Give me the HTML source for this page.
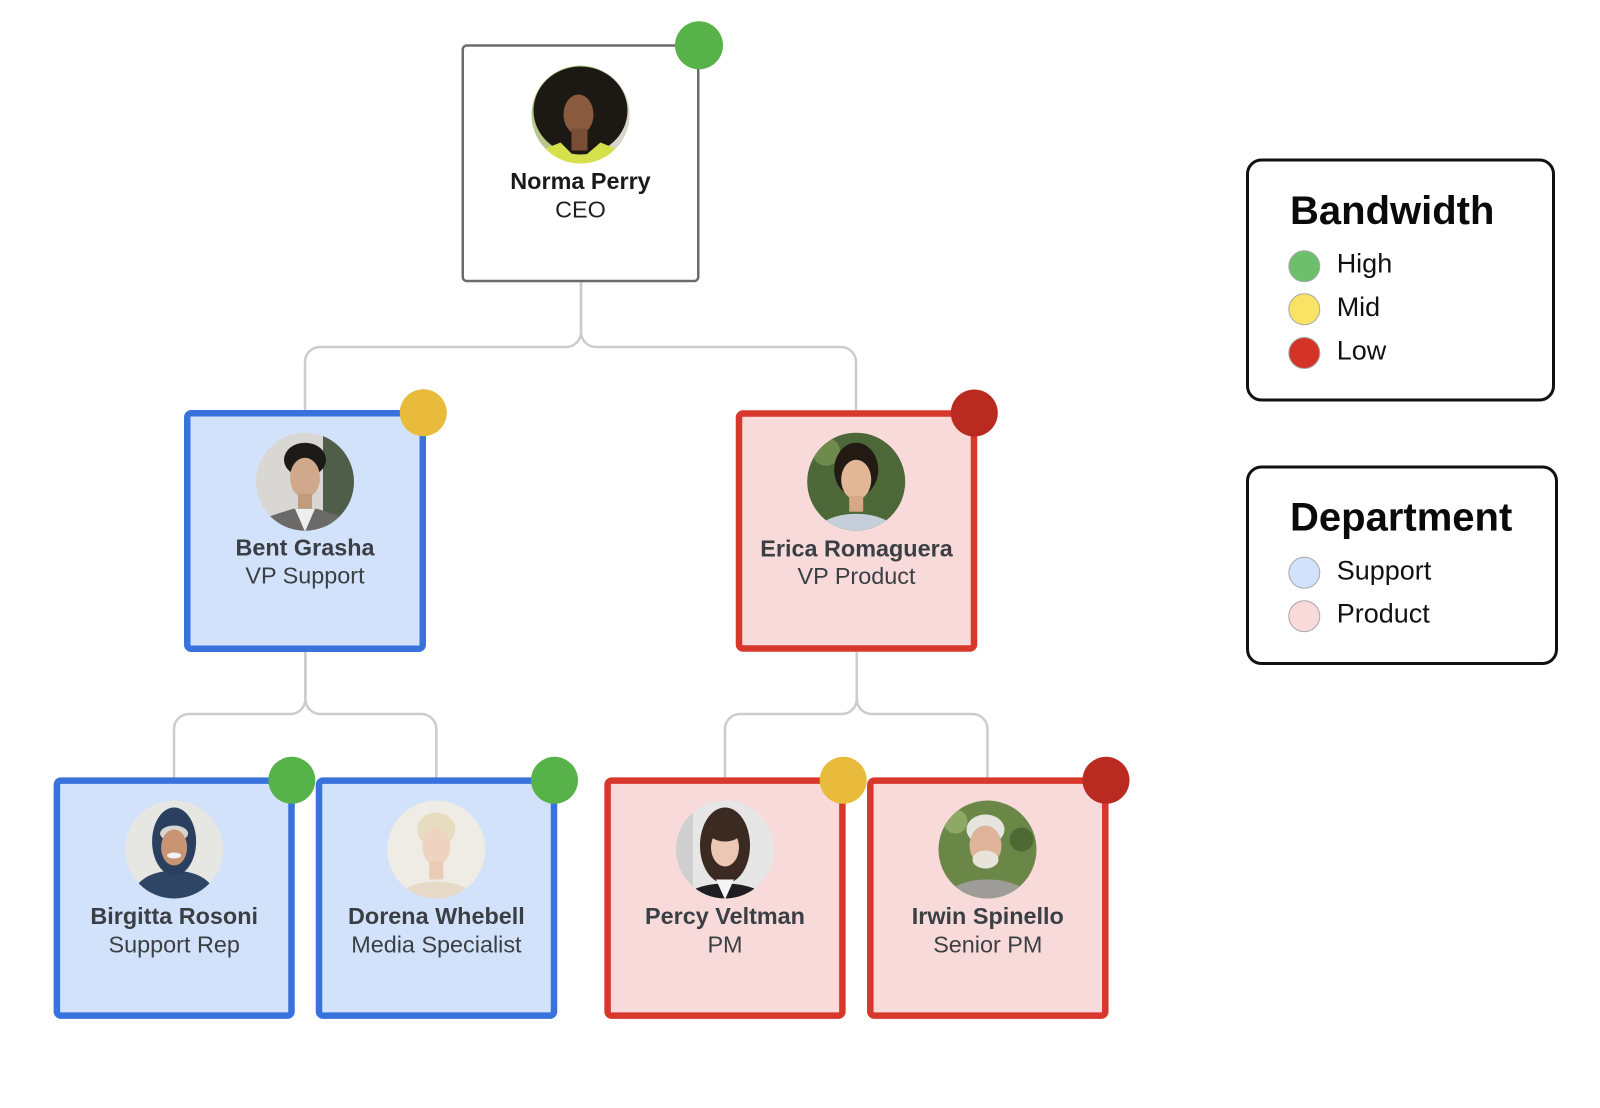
<!DOCTYPE html>
<html><head><meta charset="utf-8"><style>
html,body{margin:0;padding:0;background:#fff;}
svg{display:block;}
text{font-family:"Liberation Sans",Arial,sans-serif;}
</style></head><body>
<svg width="1600" height="1108" viewBox="0 0 1600 1108" xmlns="http://www.w3.org/2000/svg">
<defs>
<clipPath id="cc"><circle cx="0" cy="0" r="49"/></clipPath>
</defs>
<rect width="1600" height="1108" fill="#fff"/>

<!-- connectors -->
<g fill="none" stroke="#cccccc" stroke-width="2.5">
<path d="M581,282 V332 A15,15 0 0 1 566,347 H320 A15,15 0 0 0 305,362 V411"/>
<path d="M581,282 V332 A15,15 0 0 0 596,347 H841 A15,15 0 0 1 856,362 V411"/>
<path d="M305.4,652 V699 A15,15 0 0 1 290.4,714 H189 A15,15 0 0 0 174,729 V778"/>
<path d="M305.4,652 V699 A15,15 0 0 0 320.4,714 H421.3 A15,15 0 0 1 436.3,729 V778"/>
<path d="M856.8,652 V699 A15,15 0 0 1 841.8,714 H740 A15,15 0 0 0 725,729 V778"/>
<path d="M856.8,652 V699 A15,15 0 0 0 871.8,714 H972.5 A15,15 0 0 1 987.5,729 V778"/>
</g>

<!-- boxes -->
<rect x="462.75" y="45.5" width="235.5" height="235.5" rx="4" fill="#fff" stroke="#6b6b6b" stroke-width="2.5"/>
<g stroke-width="6.5">
<rect x="187.25" y="413.25" width="235.5" height="235.5" rx="4" fill="#d3e2fb" stroke="#3872dc"/>
<rect x="739" y="413.5" width="235" height="235" rx="4" fill="#f8dada" stroke="#d8372c"/>
<rect x="56.9" y="780.6" width="234.6" height="235" rx="4" fill="#d3e2fb" stroke="#3872dc"/>
<rect x="319" y="780.6" width="235" height="235" rx="4" fill="#d3e2fb" stroke="#3872dc"/>
<rect x="607.6" y="780.6" width="234.8" height="235" rx="4" fill="#f8dada" stroke="#d8372c"/>
<rect x="870.3" y="780.6" width="235" height="235" rx="4" fill="#f8dada" stroke="#d8372c"/>
</g>

<!-- avatars -->
<!-- Norma -->
<g transform="translate(580.5,114.5)"><g clip-path="url(#cc)">
<rect x="-50" y="-50" width="100" height="100" fill="#b7c88a"/>
<rect x="20" y="-50" width="30" height="100" fill="#d9d4cc"/>
<ellipse cx="0" cy="-4" rx="47" ry="44" fill="#1c1814"/>
<ellipse cx="-2" cy="0" rx="15" ry="20" fill="#8a5a3f"/>
<rect x="-9" y="14" width="16" height="22" fill="#7a4d35"/>
<path d="M-50,50 L-40,36 L-20,28 L-8,40 L6,40 L20,28 L40,36 L50,50 Z" fill="#d6e04a"/>
</g></g>
<!-- Bent -->
<g transform="translate(305,481.7)"><g clip-path="url(#cc)">
<rect x="-50" y="-50" width="100" height="100" fill="#d8d7d3"/>
<rect x="18" y="-50" width="32" height="100" fill="#4f5e49"/>
<ellipse cx="0" cy="-22" rx="21" ry="17" fill="#1b1a18"/>
<ellipse cx="0" cy="-4" rx="15" ry="20" fill="#d0a88b"/>
<rect x="-7" y="12" width="14" height="18" fill="#c29a7c"/>
<path d="M-50,50 L-40,36 L-12,27 L12,27 L40,36 L50,50 Z" fill="#6c6a68"/>
<path d="M-10,27 L10,27 L0,50 Z" fill="#eeeeee"/>
</g></g>
<!-- Erica -->
<g transform="translate(856.2,481.7)"><g clip-path="url(#cc)">
<rect x="-50" y="-50" width="100" height="100" fill="#4d6838"/>
<circle cx="-30" cy="-30" r="14" fill="#6f8a4d"/>
<ellipse cx="0" cy="-12" rx="22" ry="27" fill="#231a14"/>
<ellipse cx="0" cy="-2" rx="15" ry="20" fill="#e2b797"/>
<rect x="-7" y="14" width="14" height="16" fill="#d7a888"/>
<ellipse cx="0" cy="52" rx="40" ry="20" fill="#c5cfda"/>
</g></g>
<!-- Birgitta -->
<g transform="translate(174.1,849.5)"><g clip-path="url(#cc)">
<rect x="-50" y="-50" width="100" height="100" fill="#e6e6e3"/>
<ellipse cx="0" cy="45" rx="40" ry="24" fill="#2e4566"/>
<ellipse cx="0" cy="-8" rx="22" ry="34" fill="#2b3f5e"/>
<ellipse cx="0" cy="-16" rx="14" ry="8" fill="#d8d6d2"/>
<ellipse cx="0" cy="-2" rx="13" ry="18" fill="#c99473"/>
<ellipse cx="0" cy="6" rx="7" ry="3" fill="#f2f2f2"/>
</g></g>
<!-- Dorena -->
<g transform="translate(436.3,849.5)"><g clip-path="url(#cc)">
<rect x="-50" y="-50" width="100" height="100" fill="#efebe5"/>
<ellipse cx="0" cy="-20" rx="19" ry="17" fill="#e6dcbf"/>
<ellipse cx="0" cy="-3" rx="14" ry="19" fill="#eed3c0"/>
<rect x="-7" y="12" width="14" height="18" fill="#e9cbb6"/>
<ellipse cx="0" cy="50" rx="38" ry="18" fill="#e6d9c7"/>
</g></g>
<!-- Percy -->
<g transform="translate(725,849.5)"><g clip-path="url(#cc)">
<rect x="-50" y="-50" width="100" height="100" fill="#e6e6e6"/>
<rect x="-50" y="-50" width="18" height="100" fill="#cfcfcf"/>
<ellipse cx="0" cy="-4" rx="25" ry="38" fill="#3a2a22"/>
<ellipse cx="0" cy="-2" rx="14" ry="19" fill="#ecc7b4"/>
<ellipse cx="0" cy="-16" rx="15" ry="8" fill="#3a2a22"/>
<ellipse cx="0" cy="54" rx="44" ry="20" fill="#1e1e22"/>
<path d="M-9,30 L9,30 L0,50 Z" fill="#f4f4f4"/>
</g></g>
<!-- Irwin -->
<g transform="translate(987.5,849.5)"><g clip-path="url(#cc)">
<rect x="-50" y="-50" width="100" height="100" fill="#6a8748"/>
<circle cx="-32" cy="-28" r="12" fill="#8ea866"/>
<circle cx="34" cy="-10" r="12" fill="#4d6a35"/>
<ellipse cx="-2" cy="-20" rx="19" ry="15" fill="#e6e4de"/>
<ellipse cx="-2" cy="-4" rx="16" ry="20" fill="#deb39a"/>
<ellipse cx="-2" cy="10" rx="13" ry="9" fill="#e8e4dc"/>
<ellipse cx="0" cy="52" rx="44" ry="22" fill="#9e9c98"/>
</g></g>

<!-- status dots -->
<circle cx="699" cy="45.3" r="24" fill="#57b24a"/>
<circle cx="423.3" cy="412.7" r="23.5" fill="#e8bb3c"/>
<circle cx="974.3" cy="413" r="23.5" fill="#b92b20"/>
<circle cx="291.8" cy="780.3" r="23.5" fill="#57b24a"/>
<circle cx="554.5" cy="780.3" r="23.5" fill="#57b24a"/>
<circle cx="843.2" cy="780.3" r="23.5" fill="#e8bb3c"/>
<circle cx="1106" cy="780.3" r="23.5" fill="#b92b20"/>

<!-- labels -->
<g text-anchor="middle" font-size="23.4">
<text x="580.5" y="189" font-weight="bold" fill="#1a1a1a">Norma Perry</text>
<text x="580.5" y="217.3" fill="#1f1f1f">CEO</text>
<text x="305" y="555.7" font-weight="bold" fill="#3a3f44">Bent Grasha</text>
<text x="305" y="583.5" fill="#3a3f44">VP Support</text>
<text x="856.5" y="556.5" font-weight="bold" fill="#3a3f44">Erica Romaguera</text>
<text x="856.5" y="584" fill="#3a3f44">VP Product</text>
<text x="174.2" y="924" font-weight="bold" fill="#3a3f44">Birgitta Rosoni</text>
<text x="174.2" y="952.5" fill="#3a3f44">Support Rep</text>
<text x="436.4" y="924" font-weight="bold" fill="#3a3f44">Dorena Whebell</text>
<text x="436.4" y="952.5" fill="#3a3f44">Media Specialist</text>
<text x="725" y="924" font-weight="bold" fill="#3a3f44">Percy Veltman</text>
<text x="725" y="952.5" fill="#3a3f44">PM</text>
<text x="987.8" y="924" font-weight="bold" fill="#3a3f44">Irwin Spinello</text>
<text x="987.8" y="952.5" fill="#3a3f44">Senior PM</text>
</g>

<!-- legends -->
<rect x="1247.5" y="160" width="306" height="240" rx="14" fill="#fff" stroke="#111" stroke-width="3"/>
<text x="1290" y="224" font-size="40" font-weight="bold" fill="#0a0a0a">Bandwidth</text>
<g stroke="#a8a8a8" stroke-width="1">
<circle cx="1304.3" cy="266.3" r="15.5" fill="#6dbf6c"/>
<circle cx="1304.3" cy="309.3" r="15.5" fill="#fae264"/>
<circle cx="1304.3" cy="353" r="15.5" fill="#d33427"/>
</g>
<g font-size="27" fill="#111">
<text x="1336.7" y="272.7">High</text>
<text x="1336.7" y="316">Mid</text>
<text x="1336.7" y="359.3">Low</text>
</g>

<rect x="1247.5" y="467" width="309" height="196.5" rx="14" fill="#fff" stroke="#111" stroke-width="3"/>
<text x="1290" y="530.7" font-size="40" font-weight="bold" fill="#0a0a0a">Department</text>
<g stroke="#a8a8a8" stroke-width="1">
<circle cx="1304.3" cy="572.8" r="15.5" fill="#d3e2fb"/>
<circle cx="1304.3" cy="616.2" r="15.5" fill="#f8dada"/>
</g>
<g font-size="27" fill="#111">
<text x="1336.7" y="579.3">Support</text>
<text x="1336.7" y="622.5">Product</text>
</g>
</svg>
</body></html>
